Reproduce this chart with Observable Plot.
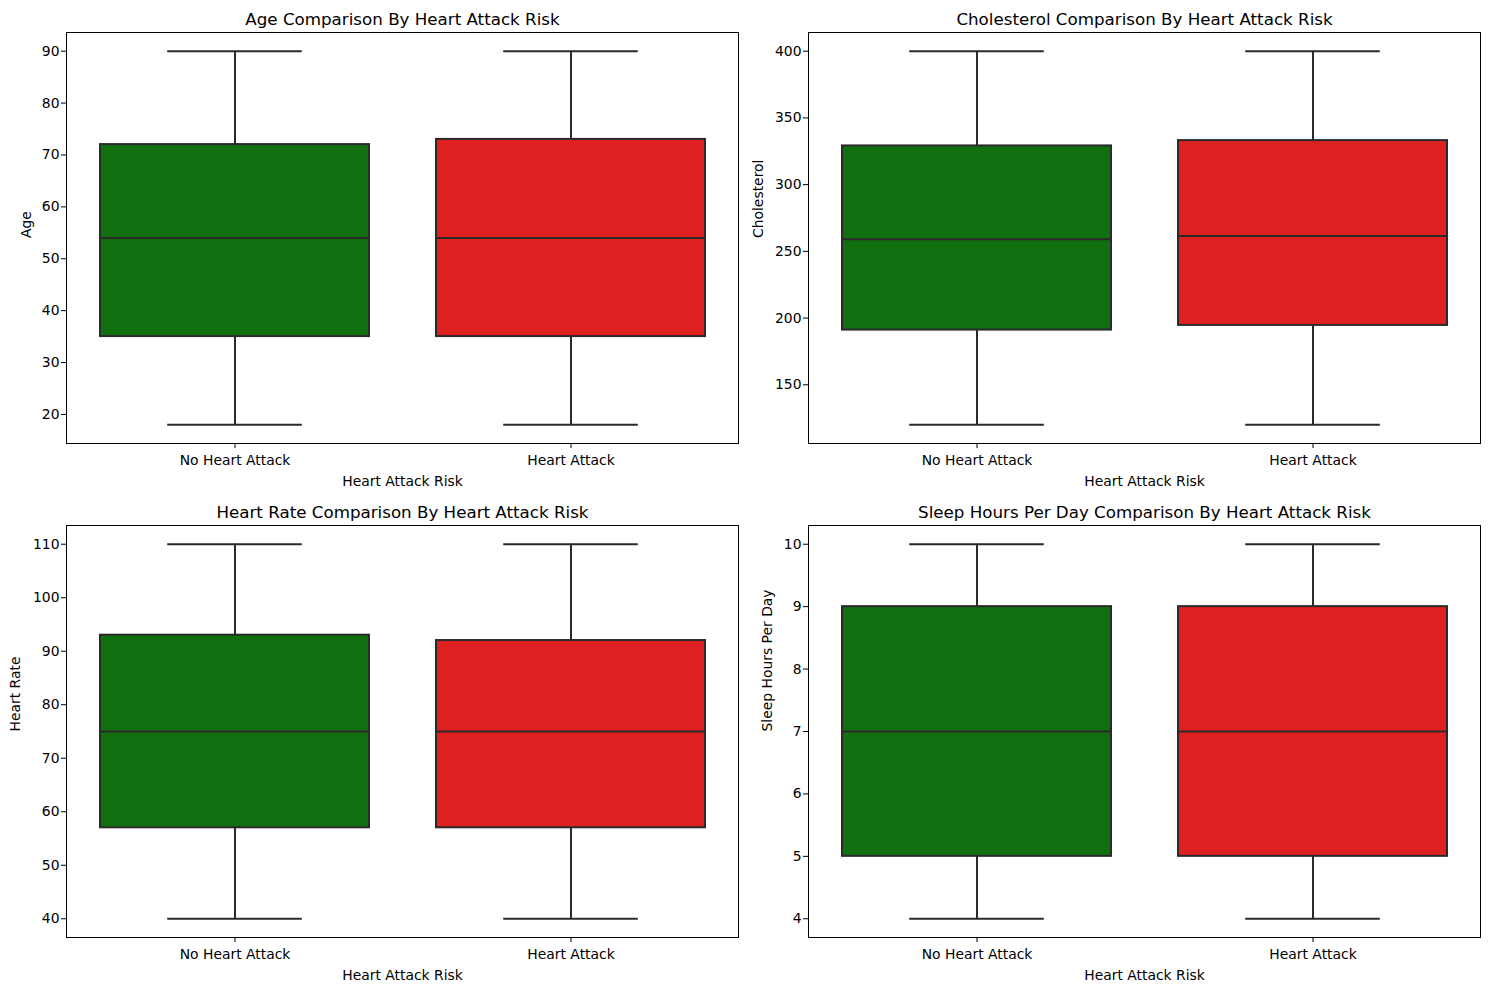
<!DOCTYPE html>
<html>
<head>
<meta charset="utf-8">
<script src="https://cdn.jsdelivr.net/npm/d3@7"></script>
<script src="https://cdn.jsdelivr.net/npm/@observablehq/plot@0.6"></script>
<style>
  html, body { margin: 0; padding: 0; background: #fff; }
  #wrap { position: relative; width: 1489px; height: 990px; font-family: "DejaVu Sans", sans-serif; }
  .panel { position: absolute; }
  .panel svg { display: block; }
</style>
</head>
<body>
<div id="wrap"></div>
<script>
// Categories and colours
const categories = ["No Heart Attack", "Heart Attack"];
const boxColors = ["#107010", "#df2020"];
const xLabel = "Heart Attack Risk";

// Five-number summaries [min, q1, median, q3, max] per category
const ageStats = [[18, 35, 54, 72, 90], [18, 35, 54, 73, 90]];
const cholesterolStats = [[120, 191, 259, 329, 400], [120, 194.5, 261.5, 333, 400]];
const heartRateStats = [[40, 57, 75, 93, 110], [40, 57, 75, 92, 110]];
const sleepStats = [[4, 5, 7, 9, 10], [4, 5, 7, 9, 10]];

// Tick values
const ageTicks = [20, 30, 40, 50, 60, 70, 80, 90];
const cholesterolTicks = [150, 200, 250, 300, 350, 400];
const heartRateTicks = [40, 50, 60, 70, 80, 90, 100, 110];
const sleepTicks = [4, 5, 6, 7, 8, 9, 10];

const panels = [
  {title: "Age Comparison By Heart Attack Risk", ylabel: "Age", stats: ageStats, ticks: ageTicks, left: 0, top: 0, height: 495, mb: 52, labelDx: -45},
  {title: "Cholesterol Comparison By Heart Attack Risk", ylabel: "Cholesterol", stats: cholesterolStats, ticks: cholesterolTicks, left: 742, top: 0, height: 495, mb: 52, labelDx: -55},
  {title: "Heart Rate Comparison By Heart Attack Risk", ylabel: "Heart Rate", stats: heartRateStats, ticks: heartRateTicks, left: 0, top: 493, height: 497, mb: 53, labelDx: -56},
  {title: "Sleep Hours Per Day Comparison By Heart Attack Risk", ylabel: "Sleep Hours Per Day", stats: sleepStats, ticks: sleepTicks, left: 742, top: 493, height: 497, mb: 53, labelDx: -46}
];

const edge = "#2a2a2a";
const wrap = document.getElementById("wrap");

for (const p of panels) {
  const rows = categories.map((c, i) => ({
    cat: c,
    min: p.stats[i][0], q1: p.stats[i][1], med: p.stats[i][2], q3: p.stats[i][3], max: p.stats[i][4]
  }));
  const lo = d3.min(rows, d => d.min), hi = d3.max(rows, d => d.max);
  const pad = (hi - lo) * 0.05;
  const width = 744;
  const bandW = (width - 66 - 6) / categories.length * 0.8;
  const capInset = bandW / 4;

  const chart = Plot.plot({
    width,
    height: p.height,
    marginLeft: 66,
    marginRight: 6,
    marginTop: 32,
    marginBottom: p.mb,
    style: {fontFamily: "DejaVu Sans, sans-serif", fontSize: "13.9px", color: "#000", background: "#fff"},
    x: {type: "band", domain: categories, paddingInner: 0.2, paddingOuter: 0.1, label: null},
    y: {domain: [lo - pad, hi + pad], label: null},
    color: {domain: categories, range: boxColors},
    marks: [
      Plot.axisX({tickSize: 5, tickPadding: 7, label: null, fontSize: "13.9px"}),
      Plot.axisY({ticks: p.ticks, tickFormat: d3.format("d"), tickSize: 5, tickPadding: 2, label: null, fontSize: "13.9px"}),
      Plot.ruleX(rows, {x: "cat", y1: "q3", y2: "max", stroke: edge, strokeWidth: 2}),
      Plot.ruleX(rows, {x: "cat", y1: "min", y2: "q1", stroke: edge, strokeWidth: 2}),
      Plot.tickY(rows, {x: "cat", y: "max", stroke: edge, strokeWidth: 2, insetLeft: capInset, insetRight: capInset}),
      Plot.tickY(rows, {x: "cat", y: "min", stroke: edge, strokeWidth: 2, insetLeft: capInset, insetRight: capInset}),
      Plot.barY(rows, {x: "cat", y1: "q1", y2: "q3", fill: "cat", stroke: edge, strokeWidth: 2}),
      Plot.tickY(rows, {x: "cat", y: "med", stroke: edge, strokeWidth: 2}),
      Plot.frame({stroke: "#000", strokeWidth: 1}),
      Plot.text([p.title], {text: d => d, frameAnchor: "top", dy: -8, lineAnchor: "bottom", fontSize: "16.7px", fill: "#000"}),
      Plot.text([xLabel], {text: d => d, frameAnchor: "bottom", dy: 42, lineAnchor: "bottom", fontSize: "13.9px", fill: "#000"}),
      Plot.text([p.ylabel], {text: d => d, frameAnchor: "left", dx: p.labelDx, rotate: -90, lineAnchor: "top", fontSize: "13.9px", fill: "#000"})
    ]
  });
  const div = document.createElement("div");
  div.className = "panel";
  div.style.left = p.left + "px";
  div.style.top = p.top + "px";
  div.appendChild(chart);
  wrap.appendChild(div);
}
</script>
</body>
</html>
